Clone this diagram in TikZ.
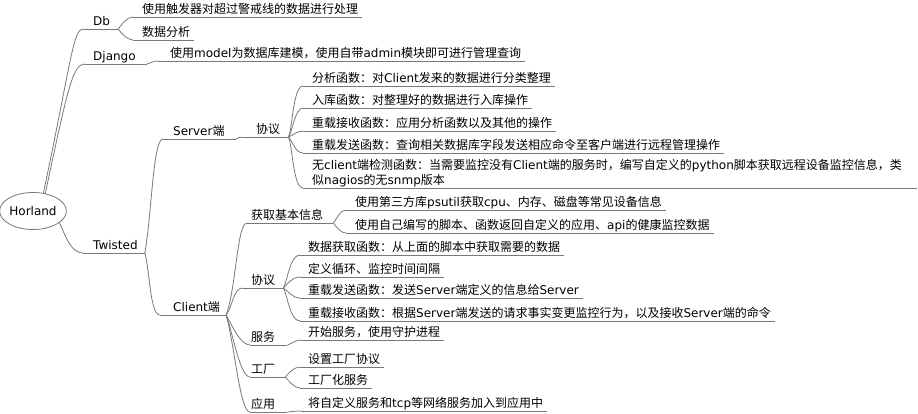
\documentclass[tikz,border=0pt]{standalone}
\usepackage{fontspec}
\setmainfont{DejaVu Sans}
\newfontfamily\cjkf{Noto Sans CJK SC}
\usetikzlibrary{shapes.geometric}
\XeTeXinterchartokenstate=1
\newXeTeXintercharclass\CJKclass
\newcount\cjkcnt
\cjkcnt="3000
\loop\ifnum\cjkcnt<"A000 \XeTeXcharclass\cjkcnt=\CJKclass \advance\cjkcnt by 1 \repeat
\cjkcnt="FF00
\loop\ifnum\cjkcnt<"FFF0 \XeTeXcharclass\cjkcnt=\CJKclass \advance\cjkcnt by 1 \repeat
\XeTeXinterchartoks 0 \CJKclass = {\cjkf}
\XeTeXinterchartoks 4095 \CJKclass = {\cjkf}
\XeTeXinterchartoks \CJKclass 0 = {\normalfont}
\XeTeXinterchartoks \CJKclass 4095 = {\normalfont}
\definecolor{lc}{RGB}{120,120,120}
% #1 name, #2 text x, #3 underline y, #4 underline start x, #5 end gap, #6 text
\newcommand\mmtopic[6]{%
  \node (#1) at (#2,-#3+3.5) {#6};
  \coordinate (#1L) at (#4,-#3);
  \coordinate (#1R) at ([xshift=#5pt]#1.east |- #1L);
  \draw[ln] (#1L) -- (#1R);}
\begin{document}
\begin{tikzpicture}[x=1pt,y=1pt,
  every node/.style={font=\fontsize{12pt}{14.5pt}\selectfont, inner sep=0pt, anchor=base west, text=black},
  ln/.style={draw=lc, line width=0.8pt},
  cn/.style n args={3}{out=#1, in=180, out distance=#2, in distance=#3}]
\useasboundingbox (0,0) rectangle (918,-414);
\node[ellipse, draw=lc, line width=0.8pt, fill=white, minimum width=66pt, minimum height=37pt, anchor=center] (root) at (33,-211) {Horland};
\mmtopic{db}{93}{29}{83}{8}{Db}
\mmtopic{dj}{93}{64}{85}{11}{Django}
\mmtopic{tw}{93}{253}{83}{7}{Twisted}
\mmtopic{d1}{142}{17}{133}{4}{使用触发器对超过警戒线的数据进行处理}
\mmtopic{d2}{142}{40}{133}{4}{数据分析}
\mmtopic{j1}{170}{61}{158}{4}{使用model为数据库建模，使用自带admin模块即可进行管理查询}
\mmtopic{sv}{173}{139}{163}{11}{Server端}
\mmtopic{cl}{173}{315}{160}{6}{Client端}
\mmtopic{sp}{256}{137}{241}{8}{协议}
\mmtopic{s1}{312}{86}{303}{4}{分析函数：对Client发来的数据进行分类整理}
\mmtopic{s2}{312}{108}{303}{4}{入库函数：对整理好的数据进行入库操作}
\mmtopic{s3}{312}{131}{303}{4}{重载接收函数：应用分析函数以及其他的操作}
\mmtopic{s4}{312}{153}{303}{4}{重载发送函数：查询相关数据库字段发送相应命令至客户端进行远程管理操作}
\node[align=left] (s5) at (312,-184.5) {无client端检测函数：当需要监控没有Client端的服务时，编写自定义的python脚本获取远程设备监控信息，类\\似nagios的无snmp版本};
\coordinate (s5L) at (303,-188);
\coordinate (s5R) at (917,-188);
\draw[ln] (s5L) -- (s5R);
\mmtopic{cb}{251}{223}{247}{10}{获取基本信息}
\mmtopic{cp}{251}{288}{243}{8}{协议}
\mmtopic{cs}{251}{345}{250}{12}{服务}
\mmtopic{cf}{251}{377}{250}{10}{工厂}
\mmtopic{ca}{251}{412}{250}{12}{应用}
\mmtopic{b1}{355}{210}{346}{4}{使用第三方库psutil获取cpu、内存、磁盘等常见设备信息}
\mmtopic{b2}{355}{233}{346}{4}{使用自己编写的脚本、函数返回自定义的应用、api的健康监控数据}
\mmtopic{p1}{308}{255}{300}{4}{数据获取函数：从上面的脚本中获取需要的数据}
\mmtopic{p2}{308}{277}{300}{4}{定义循环、监控时间间隔}
\mmtopic{p3}{308}{298}{300}{4}{重载发送函数：发送Server端定义的信息给Server}
\mmtopic{p4}{308}{321}{300}{4}{重载接收函数：根据Server端发送的请求事实变更监控行为，以及接收Server端的命令}
\mmtopic{c1}{308}{340}{301}{4}{开始服务，使用守护进程}
\mmtopic{f1}{308}{367}{300}{4}{设置工厂协议}
\mmtopic{f2}{308}{388}{300}{4}{工厂化服务}
\mmtopic{a1}{308}{411}{301}{4}{将自定义服务和tcp等网络服务加入到应用中}
% connectors
\draw[ln] (root.60) to[cn={78}{130pt}{10pt}] (dbL);
\draw[ln] (root.55) to[cn={78}{110pt}{12pt}] (djL);
\draw[ln] (root.-24) to[cn={-65}{15pt}{12pt}] (twL);
\draw[ln] (dbR) to[cn={55}{5pt}{6pt}] (d1L);
\draw[ln] (dbR) to[cn={-55}{5pt}{6pt}] (d2L);
\draw[ln] (djR) to[cn={15}{5pt}{5pt}] (j1L);
\draw[ln] (twR) to[cn={80}{40pt}{10pt}] (svL);
\draw[ln] (twR) to[cn={-75}{20pt}{10pt}] (clL);
\draw[ln] (svR) to[cn={10}{3pt}{3pt}] (spL);
\draw[ln] (spR) to[cn={60}{8pt}{10pt}] (s1L);
\draw[ln] (spR) to[cn={50}{6pt}{8pt}] (s2L);
\draw[ln] (spR) to[cn={20}{5pt}{6pt}] (s3L);
\draw[ln] (spR) to[cn={-40}{5pt}{8pt}] (s4L);
\draw[ln] (spR) to[cn={-60}{8pt}{10pt}] (s5L);
\draw[ln] (clR) to[cn={70}{30pt}{10pt}] (cbL);
\draw[ln] (clR) to[cn={50}{10pt}{10pt}] (cpL);
\draw[ln] (clR) to[cn={-60}{10pt}{10pt}] (csL);
\draw[ln] (clR) to[cn={-70}{20pt}{10pt}] (cfL);
\draw[ln] (clR) to[cn={-75}{35pt}{10pt}] (caL);
\draw[ln] (cbR) to[cn={50}{5pt}{6pt}] (b1L);
\draw[ln] (cbR) to[cn={-50}{5pt}{6pt}] (b2L);
\draw[ln] (cpR) to[cn={60}{8pt}{10pt}] (p1L);
\draw[ln] (cpR) to[cn={45}{5pt}{8pt}] (p2L);
\draw[ln] (cpR) to[cn={-30}{5pt}{8pt}] (p3L);
\draw[ln] (cpR) to[cn={-60}{8pt}{10pt}] (p4L);
\draw[ln] (csR) to[cn={15}{5pt}{6pt}] (c1L);
\draw[ln] (cfR) to[cn={50}{5pt}{6pt}] (f1L);
\draw[ln] (cfR) to[cn={-50}{5pt}{6pt}] (f2L);
\draw[ln] (caR) to[cn={5}{4pt}{5pt}] (a1L);
\end{tikzpicture}
\end{document}
